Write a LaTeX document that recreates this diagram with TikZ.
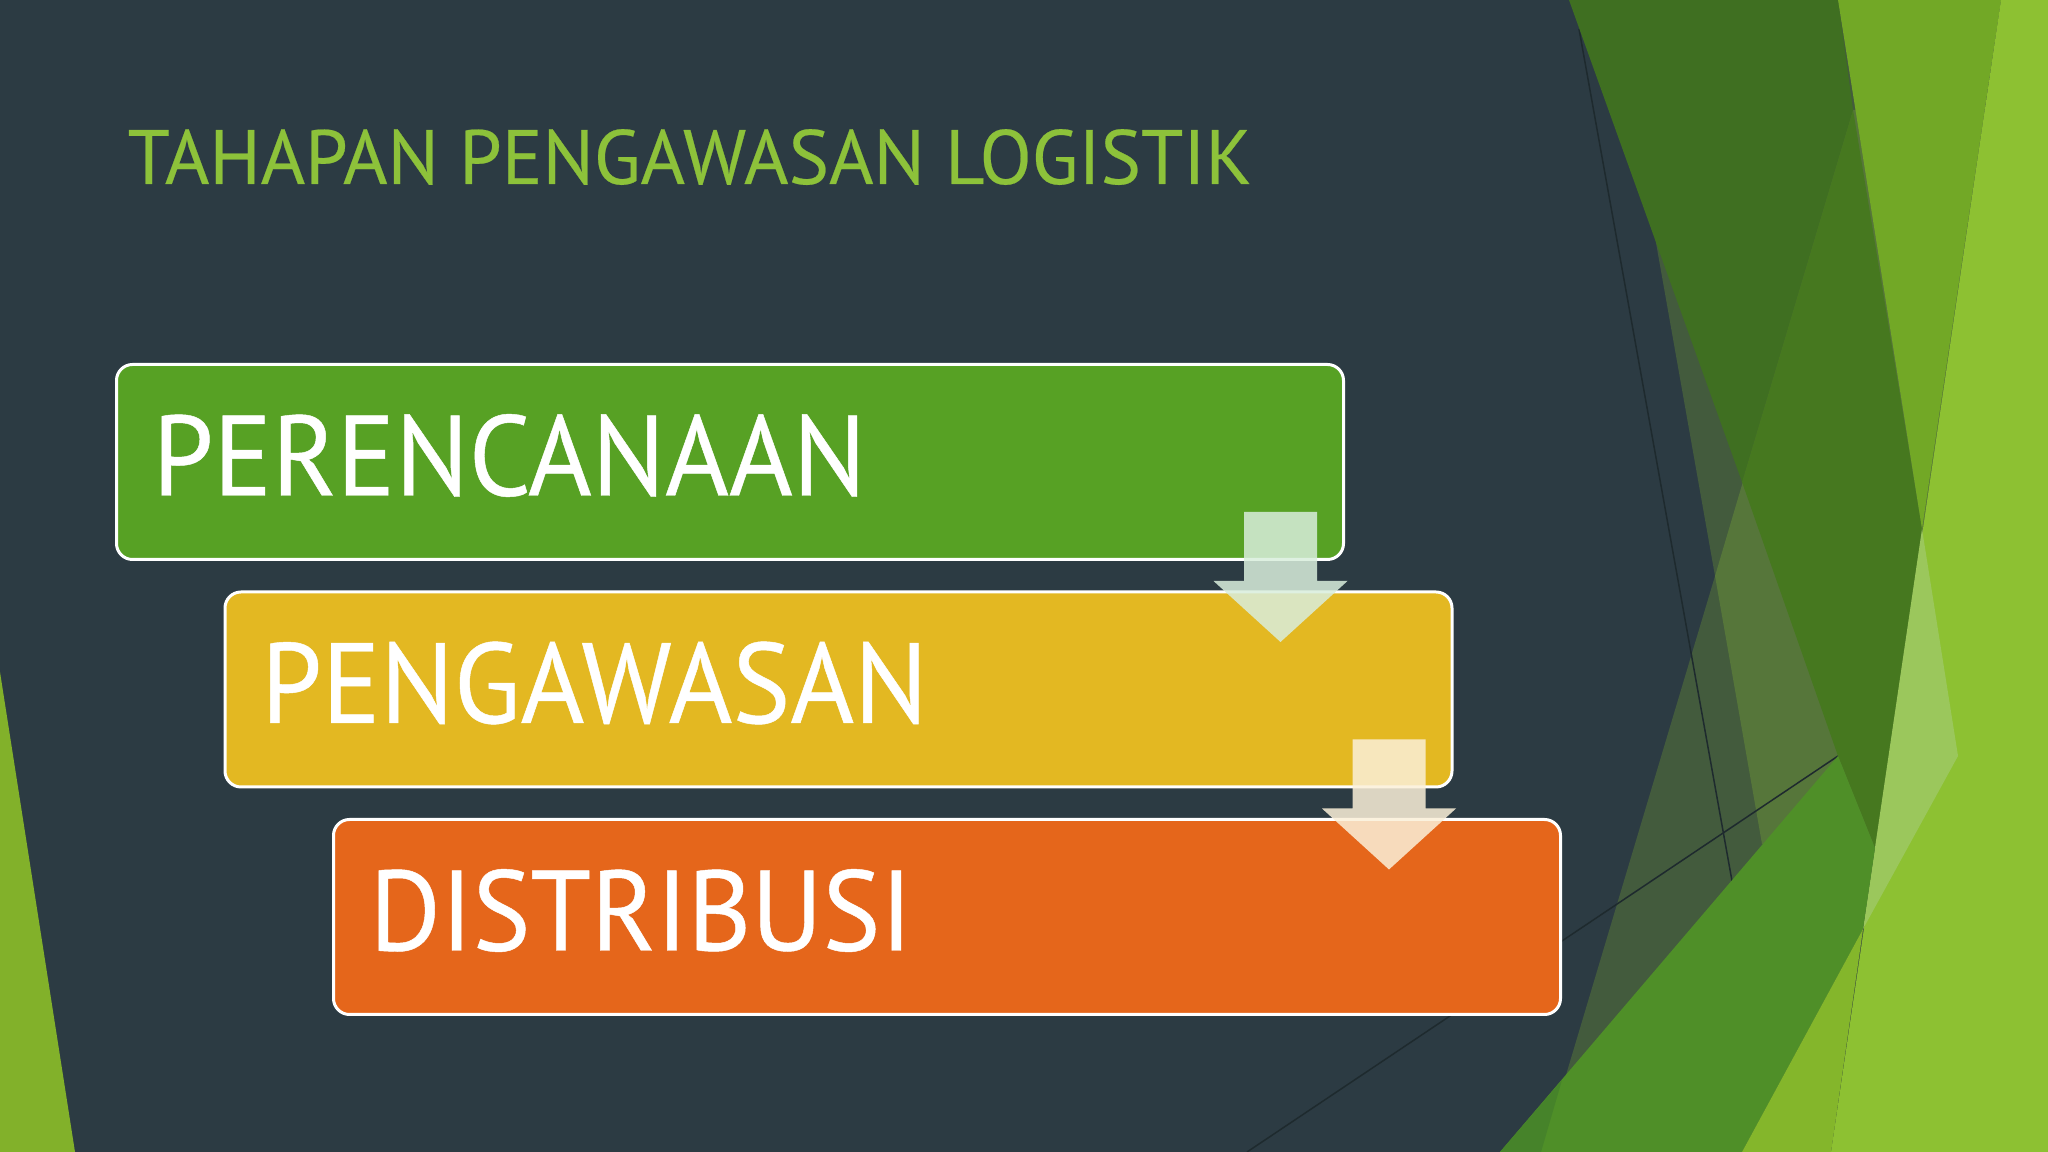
\documentclass[tikz,border=0pt]{standalone}
\usepackage{fontspec}
\setmainfont{PT Sans}
\newfontfamily\stagefont[FakeStretch=0.955,FakeBold=0.4]{PT Sans}
\newfontfamily\headfont[FakeStretch=0.99,FakeBold=0.3]{PT Sans}
\usetikzlibrary{calc}

\definecolor{slate}{HTML}{2C3B43}
\definecolor{facetL}{HTML}{82B12A}
\definecolor{oliveD}{HTML}{435B3D}
\definecolor{oliveL}{HTML}{56763A}
\definecolor{greenT}{HTML}{3F6F21}
\definecolor{greenM}{HTML}{46781F}
\definecolor{greenB}{HTML}{4F8F28}
\definecolor{greenBD}{HTML}{46832A}
\definecolor{limeM}{HTML}{72A826}
\definecolor{limeL}{HTML}{8DC132}
\definecolor{limeP}{HTML}{9BC75C}
\definecolor{limeD}{HTML}{84B62B}
\definecolor{ruleC}{HTML}{1E2A2E}
\definecolor{titleC}{HTML}{8DC23A}
\definecolor{planC}{HTML}{57A124}
\definecolor{watchC}{HTML}{E3B822}
\definecolor{shipC}{HTML}{E5661B}
\definecolor{arrowA}{HTML}{D9EEDC}
\definecolor{arrowB}{HTML}{FBF0D9}

\tikzset{
  stage/.style={draw=white, line width=0.3mm, rounded corners=1.6mm,
    anchor=north west, text=white, align=left,
    text width=115.5mm, inner xsep=3.6mm, inner ysep=0pt,
    minimum height=19.5mm, text height=8mm, text depth=1.3mm,
    font=\stagefont\fontsize{32.5}{34}\selectfont},
  flow/.style={fill opacity=0.85},
  rule/.style={ruleC, line width=0.15mm}
}

\begin{document}
\begin{tikzpicture}[x=0.1mm,y=-0.1mm]
  \useasboundingbox (0,0) rectangle (2048,1152);
  \fill[slate] (0,0) rectangle (2048,1152);
  % facets
  \fill[facetL] (0,672) -- (75,1152) -- (0,1152) -- cycle;
  \fill[oliveD] (1613,0) -- (1715,576) -- (1543,1152) -- (2048,1152) -- (2048,0) -- cycle;
  \fill[oliveL] (1853,110) -- (1715,576) -- (1762,844) -- (2048,844) -- (2048,110) -- cycle;
  \draw[rule] (1579,29) -- (1732,881);
  \draw[rule] (1247,1152) -- (1838,756);
  \fill[greenT] (1569,0) -- (1838,0) -- (1853,110) -- (1742,482) -- cycle;
  \fill[greenM] (1853,110) -- (1742,482) -- (1838,756) -- (1875,848) -- (1922,529) -- cycle;
  \fill[limeM] (1838,0) -- (2001,0) -- (1922,529) -- cycle;
  \fill[limeL] (2001,0) -- (2048,0) -- (2048,1152) -- (1831,1152) -- cycle;
  \fill[limeP] (1922,529) -- (1958,756) -- (1863,929) -- cycle;
  \fill[greenB] (1838,756) -- (1875,848) -- (1863,929) -- (1742,1152) -- (1500,1152) -- cycle;
  \fill[greenBD] (1562,1080) -- (1541,1152) -- (1500,1152) -- cycle;
  \fill[limeD] (1863,929) -- (1831,1152) -- (1742,1152) -- cycle;

  \node[anchor=base west, text=titleC, inner sep=0pt,
    font=\headfont\fontsize{21.9}{24}\selectfont] (title) at (127,184)
    {TAHAPAN PENGAWASAN LOGISTIK};

  \node[stage, fill=planC] (perencanaan) at (115,363) {PERENCANAAN};
  \node[stage, fill=watchC] (pengawasan)
    at ($(perencanaan.north west)+(108.5,227.5)$) {PENGAWASAN};
  \node[stage, fill=shipC] (distribusi)
    at ($(pengawasan.north west)+(108.5,227.5)$) {DISTRIBUSI};

  \coordinate (a1) at ($(perencanaan.south east)+(-64.5,-49)$);
  \coordinate (a2) at ($(pengawasan.south east)+(-64.5,-49)$);
  \fill[flow, arrowA] (a1) ++(-36.5,0) -- ++(73,0) -- ++(0,69) -- ++(30.5,0)
    -- ++(-67,61) -- ++(-67,-61) -- ++(30.5,0) -- cycle;
  \fill[flow, arrowB] (a2) ++(-36.5,0) -- ++(73,0) -- ++(0,69) -- ++(30.5,0)
    -- ++(-67,61) -- ++(-67,-61) -- ++(30.5,0) -- cycle;
\end{tikzpicture}
\end{document}
